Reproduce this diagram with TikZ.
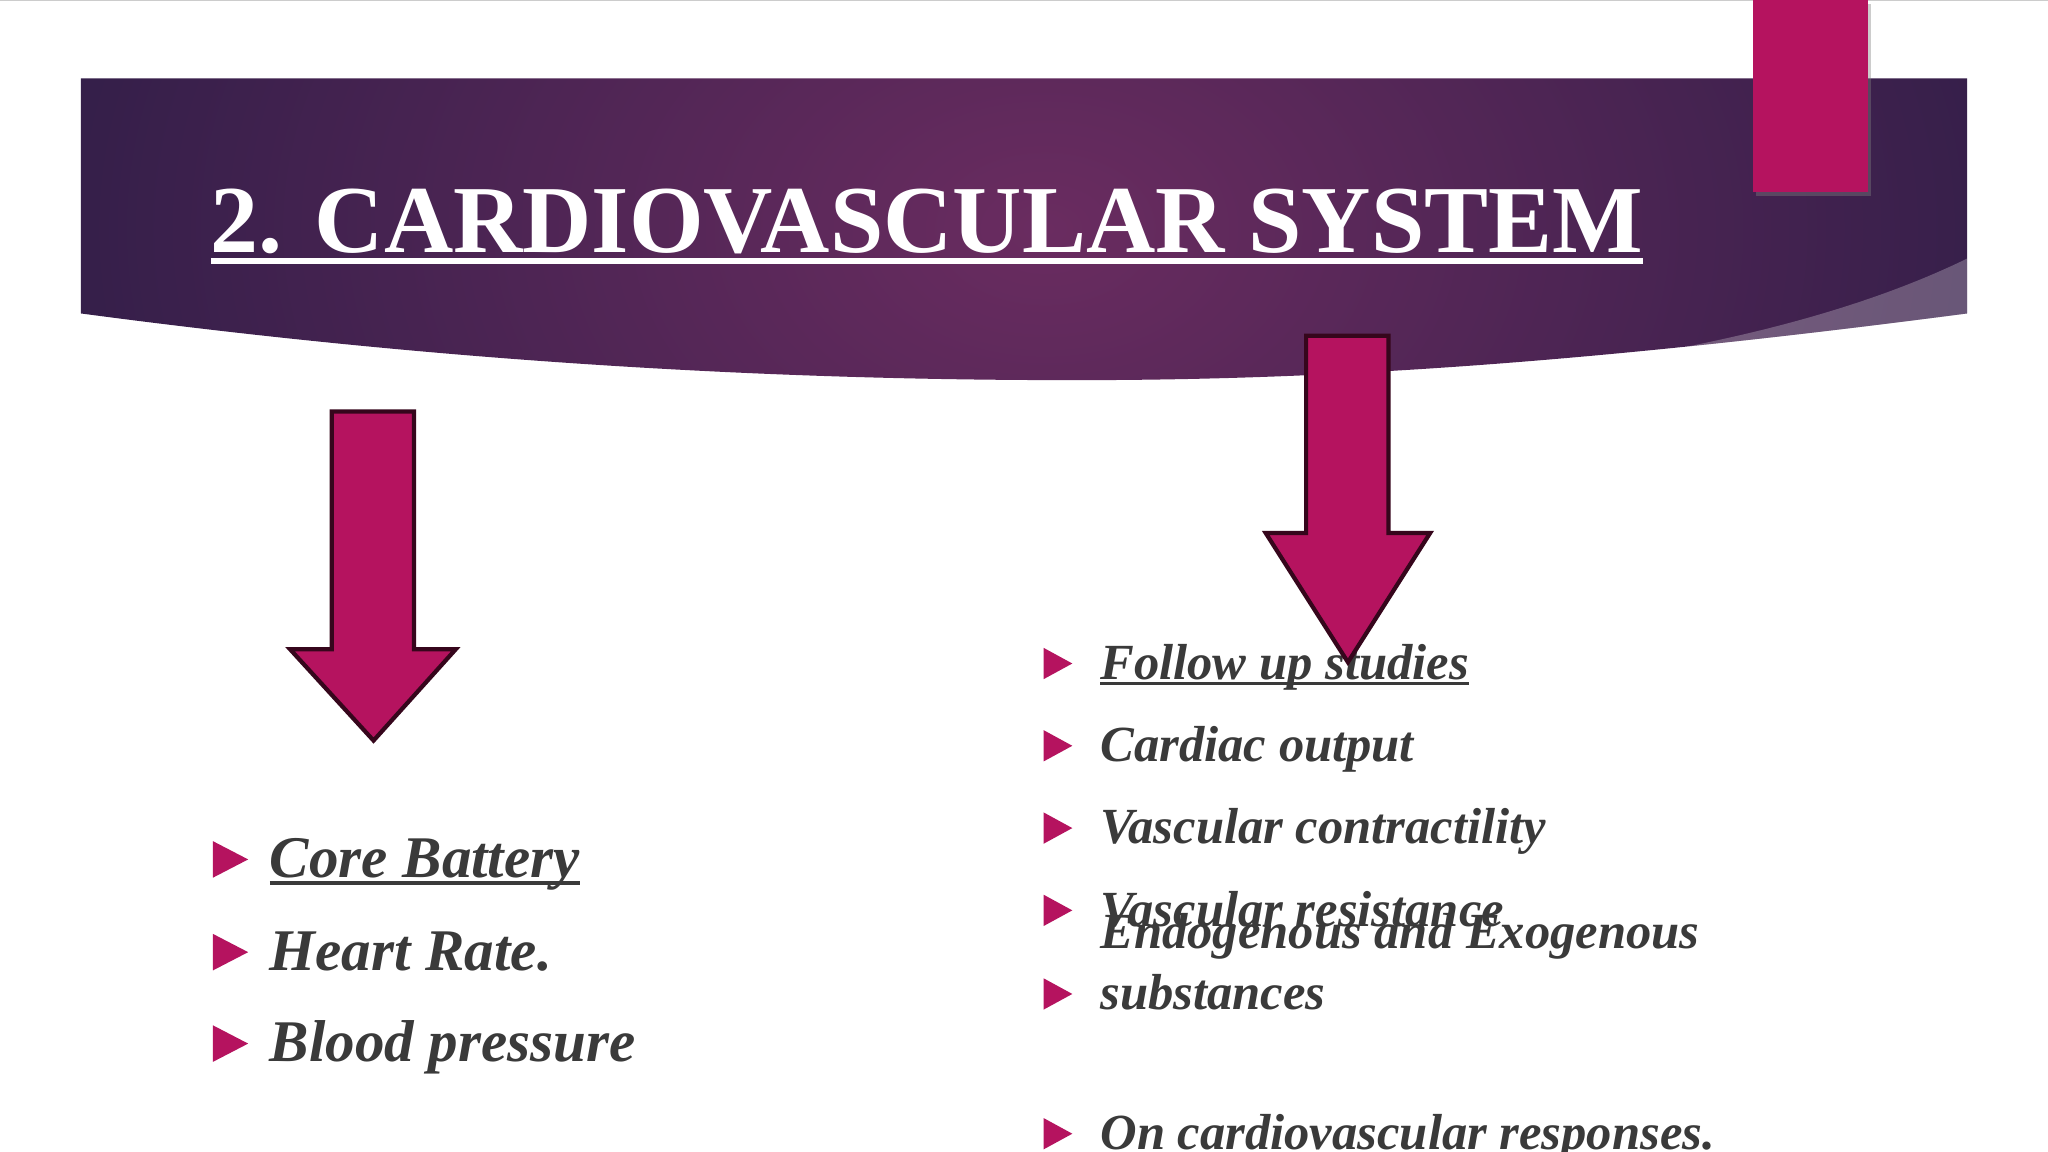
\documentclass[tikz,border=0pt]{standalone}
\usepackage{fontspec}
\setmainfont{Liberation Serif}
\usetikzlibrary{shadows}
\newcommand\myul[1]{\setbox0\hbox{#1}\leavevmode\rlap{\rule[-0.12em]{\wd0}{0.06em}}\box0}
\definecolor{pinkc}{HTML}{B5135F}
\definecolor{dpur}{HTML}{2A1C45}
\definecolor{mpur}{HTML}{6A2C60}
\definecolor{txt}{HTML}{3A3A3A}
\tikzset{
  bigarrow/.style={fill=pinkc,draw=black!70!pinkc,line width=1.2pt},
  bul/.style={fill=pinkc,draw=none},
  ltext/.style={anchor=base west,inner sep=0,text=txt,font=\fontsize{16.8}{20}\selectfont\bfseries\itshape},
  rtext/.style={anchor=base west,inner sep=0,text=txt,font=\fontsize{14.4}{17.4}\selectfont\bfseries\itshape,align=left}
}
\begin{document}
\begin{tikzpicture}[x=0.013061cm,y=-0.013061cm]
\useasboundingbox (0,0) rectangle (1568,882);
\clip (0,0) rectangle (1568,882);
\fill[white] (0,0) rectangle (1568,882);
\draw[gray!40] (0,0.5) -- (1568,0.5);
% banner
\begin{scope}
\clip (62,60) -- (1506,60) -- (1506,240) .. controls (1200,280) and (1000,292) .. (800,291) .. controls (500,290) and (250,265) .. (62,240) -- cycle;
\shade[inner color=mpur,outer color=dpur] (-100,-450) rectangle (1700,800);
\fill[white,opacity=0.25] (1150,287) .. controls (1300,270) and (1420,240) .. (1506,198) -- (1506,300) -- (1150,300) -- cycle;
\end{scope}
\node[anchor=base west,inner sep=0,text=white,font=\fontsize{27.3}{32}\selectfont\bfseries] (title) at (161,193) {\myul{2. CARDIOVASCULAR SYSTEM}};
% pink tab
\fill[pinkc,drop shadow={opacity=0.4,shadow xshift=1pt,shadow yshift=-1pt}] (1342,0) rectangle (1430,147);
% left arrow
\draw[bigarrow] (254,315) -- (317,315) -- (317,497) -- (349,497) -- (286,567) -- (222,497) -- (254,497) -- cycle;
% left bullets
\foreach \yy/\t [count=\i] in {672/{\myul{Core Battery}},743/{Heart Rate.},813/{Blood pressure}}{
  \fill[bul] (163,\yy-28) -- (190,\yy-14) -- (163,\yy) -- cycle;
  \node[ltext] (l\i) at (206,\yy) {\t};
}
% right bullets
\foreach \yy/\t [count=\i] in {520/{\myul{Follow up studies}},583/{Cardiac output},646/{Vascular contractility},709/{Vascular resistance},773/{Endogenous and Exogenous\\substances},880/{On cardiovascular responses.}}{
  \fill[bul] (799,\yy-24) -- (821,\yy-12) -- (799,\yy) -- cycle;
  \node[rtext] (r\i) at (842,\yy) {\t};
}
% right arrow on top
\draw[bigarrow] (1000,257) -- (1063,257) -- (1063,408) -- (1095,408) -- (1032,507) -- (969,408) -- (1000,408) -- cycle;
\end{tikzpicture}
\end{document}
